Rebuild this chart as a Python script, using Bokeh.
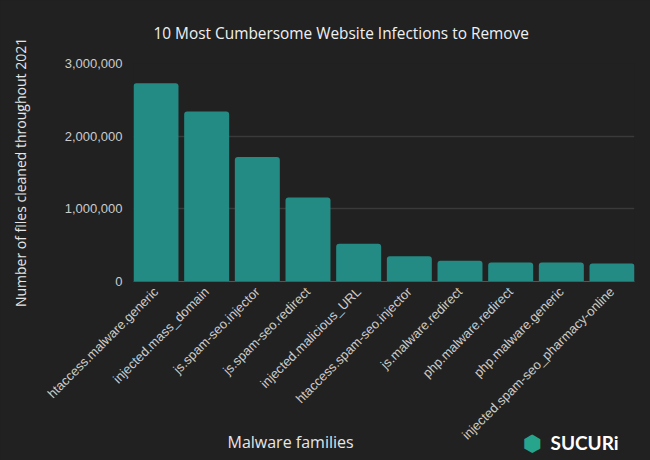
from bokeh.plotting import figure
from bokeh.models import (Range1d, FixedTicker, NumeralTickFormatter, Title,
                          ColumnDataSource)
from bokeh.embed import file_html
from bokeh.resources import INLINE
import math

# ---- data ----
families = ["htaccess.malware.generic", "injected.mass_domain", "js.spam-seo.injector",
            "js.spam-seo.redirect", "injected.malicious_URL", "htaccess.spam-seo.injector",
            "js.malware.redirect", "php.malware.redirect", "php.malware.generic",
            "injected.spam-seo_pharmacy-online"]
files_cleaned = [2728000, 2341000, 1714000, 1157000, 521000, 346000, 286000, 263000, 262000, 249000]
y_ticks = [0, 1000000, 2000000, 3000000]
title_text = "10 Most Cumbersome Website Infections to Remove"
y_title = "Number of files cleaned throughout 2021"
x_title = "Malware families"
logo_text = "SUCURi"

BG = "#212121"
BAR = "#238b84"

idx = list(range(len(families)))
src = ColumnDataSource(dict(x=idx, top=files_cleaned, name=families))

bw = 0.888
p = figure(width=650, height=460, output_backend="svg", toolbar_location=None,
           x_range=Range1d(-bw / 2, len(families) - 1 + bw / 2),
           y_range=Range1d(0, 3000000),
           min_border_left=133, min_border_right=16, min_border_top=63, min_border_bottom=179)
p.background_fill_color = BG
p.border_fill_color = BG
p.outline_line_color = None

p.vbar(x="x", top="top", width=bw, bottom=0, source=src, fill_color=BAR,
       line_color=None, border_radius=(3, 3, 0, 0))

# y axis
ya = p.yaxis[0]
ya.ticker = FixedTicker(ticks=y_ticks)
ya.formatter = NumeralTickFormatter(format="0,0")
ya.axis_line_color = None
ya.major_tick_line_color = None
ya.minor_tick_line_color = None
ya.major_tick_out = 0
ya.major_label_standoff = 11
ya.major_label_text_font = "Liberation Sans"
ya.major_label_text_font_size = "13px"
ya.major_label_text_color = "#cccccc"
ya.axis_label = y_title
ya.axis_label_text_font = "Open Sans"
ya.axis_label_text_font_style = "normal"
ya.axis_label_text_font_size = "14px"
ya.axis_label_text_color = "#e6e6e6"
ya.axis_label_standoff = 32

# x axis
xa = p.xaxis[0]
xa.ticker = FixedTicker(ticks=idx)
xa.major_label_overrides = {i: n for i, n in zip(idx, families)}
xa.major_label_orientation = math.pi / 4
xa.major_tick_line_color = None
xa.minor_tick_line_color = None
xa.major_tick_out = 0
xa.major_label_standoff = 8
xa.axis_line_color = "#555555"
xa.major_label_text_font = "Liberation Sans"
xa.major_label_text_font_size = "13px"
xa.major_label_text_color = "#cccccc"

p.xgrid.grid_line_color = None
p.ygrid.grid_line_color = "#3a3a3a"
p.ygrid.grid_line_width = 1.5

# chart title
p.title.text = title_text
p.title.align = "left"
p.title.offset = 20
p.title.standoff = 40
p.title.text_font = "Open Sans"
p.title.text_font_style = "normal"
p.title.text_font_size = "15.4px"
p.title.text_color = "#f0f0f0"

# x-axis title and logo as titles in the bottom panel (pulled up beside the long tick label)
p.add_layout(Title(text=x_title, align="left", offset=94, vertical_align="top", standoff=-39,
                   text_font="Open Sans", text_font_style="normal", text_font_size="16px",
                   text_color="#e6e6e6"), "below")
p.add_layout(Title(text=logo_text, align="left", offset=417, vertical_align="top", standoff=-40,
                   text_font="Lato", text_font_style="bold", text_font_size="19px",
                   text_color="#ffffff"), "below")
p.add_layout(Title(text="\u2b22", align="left", offset=389, vertical_align="top", standoff=-39,
                   text_font="DejaVu Sans", text_font_style="normal", text_font_size="22px",
                   text_color="#27a58c"), "below")

html = file_html(p, INLINE, title="chart")
html = html.replace("<head>", "<head><style>html,body{margin:0;padding:0;background:#212121;overflow:hidden;}</style>", 1)
open("out.html", "w").write(html)
